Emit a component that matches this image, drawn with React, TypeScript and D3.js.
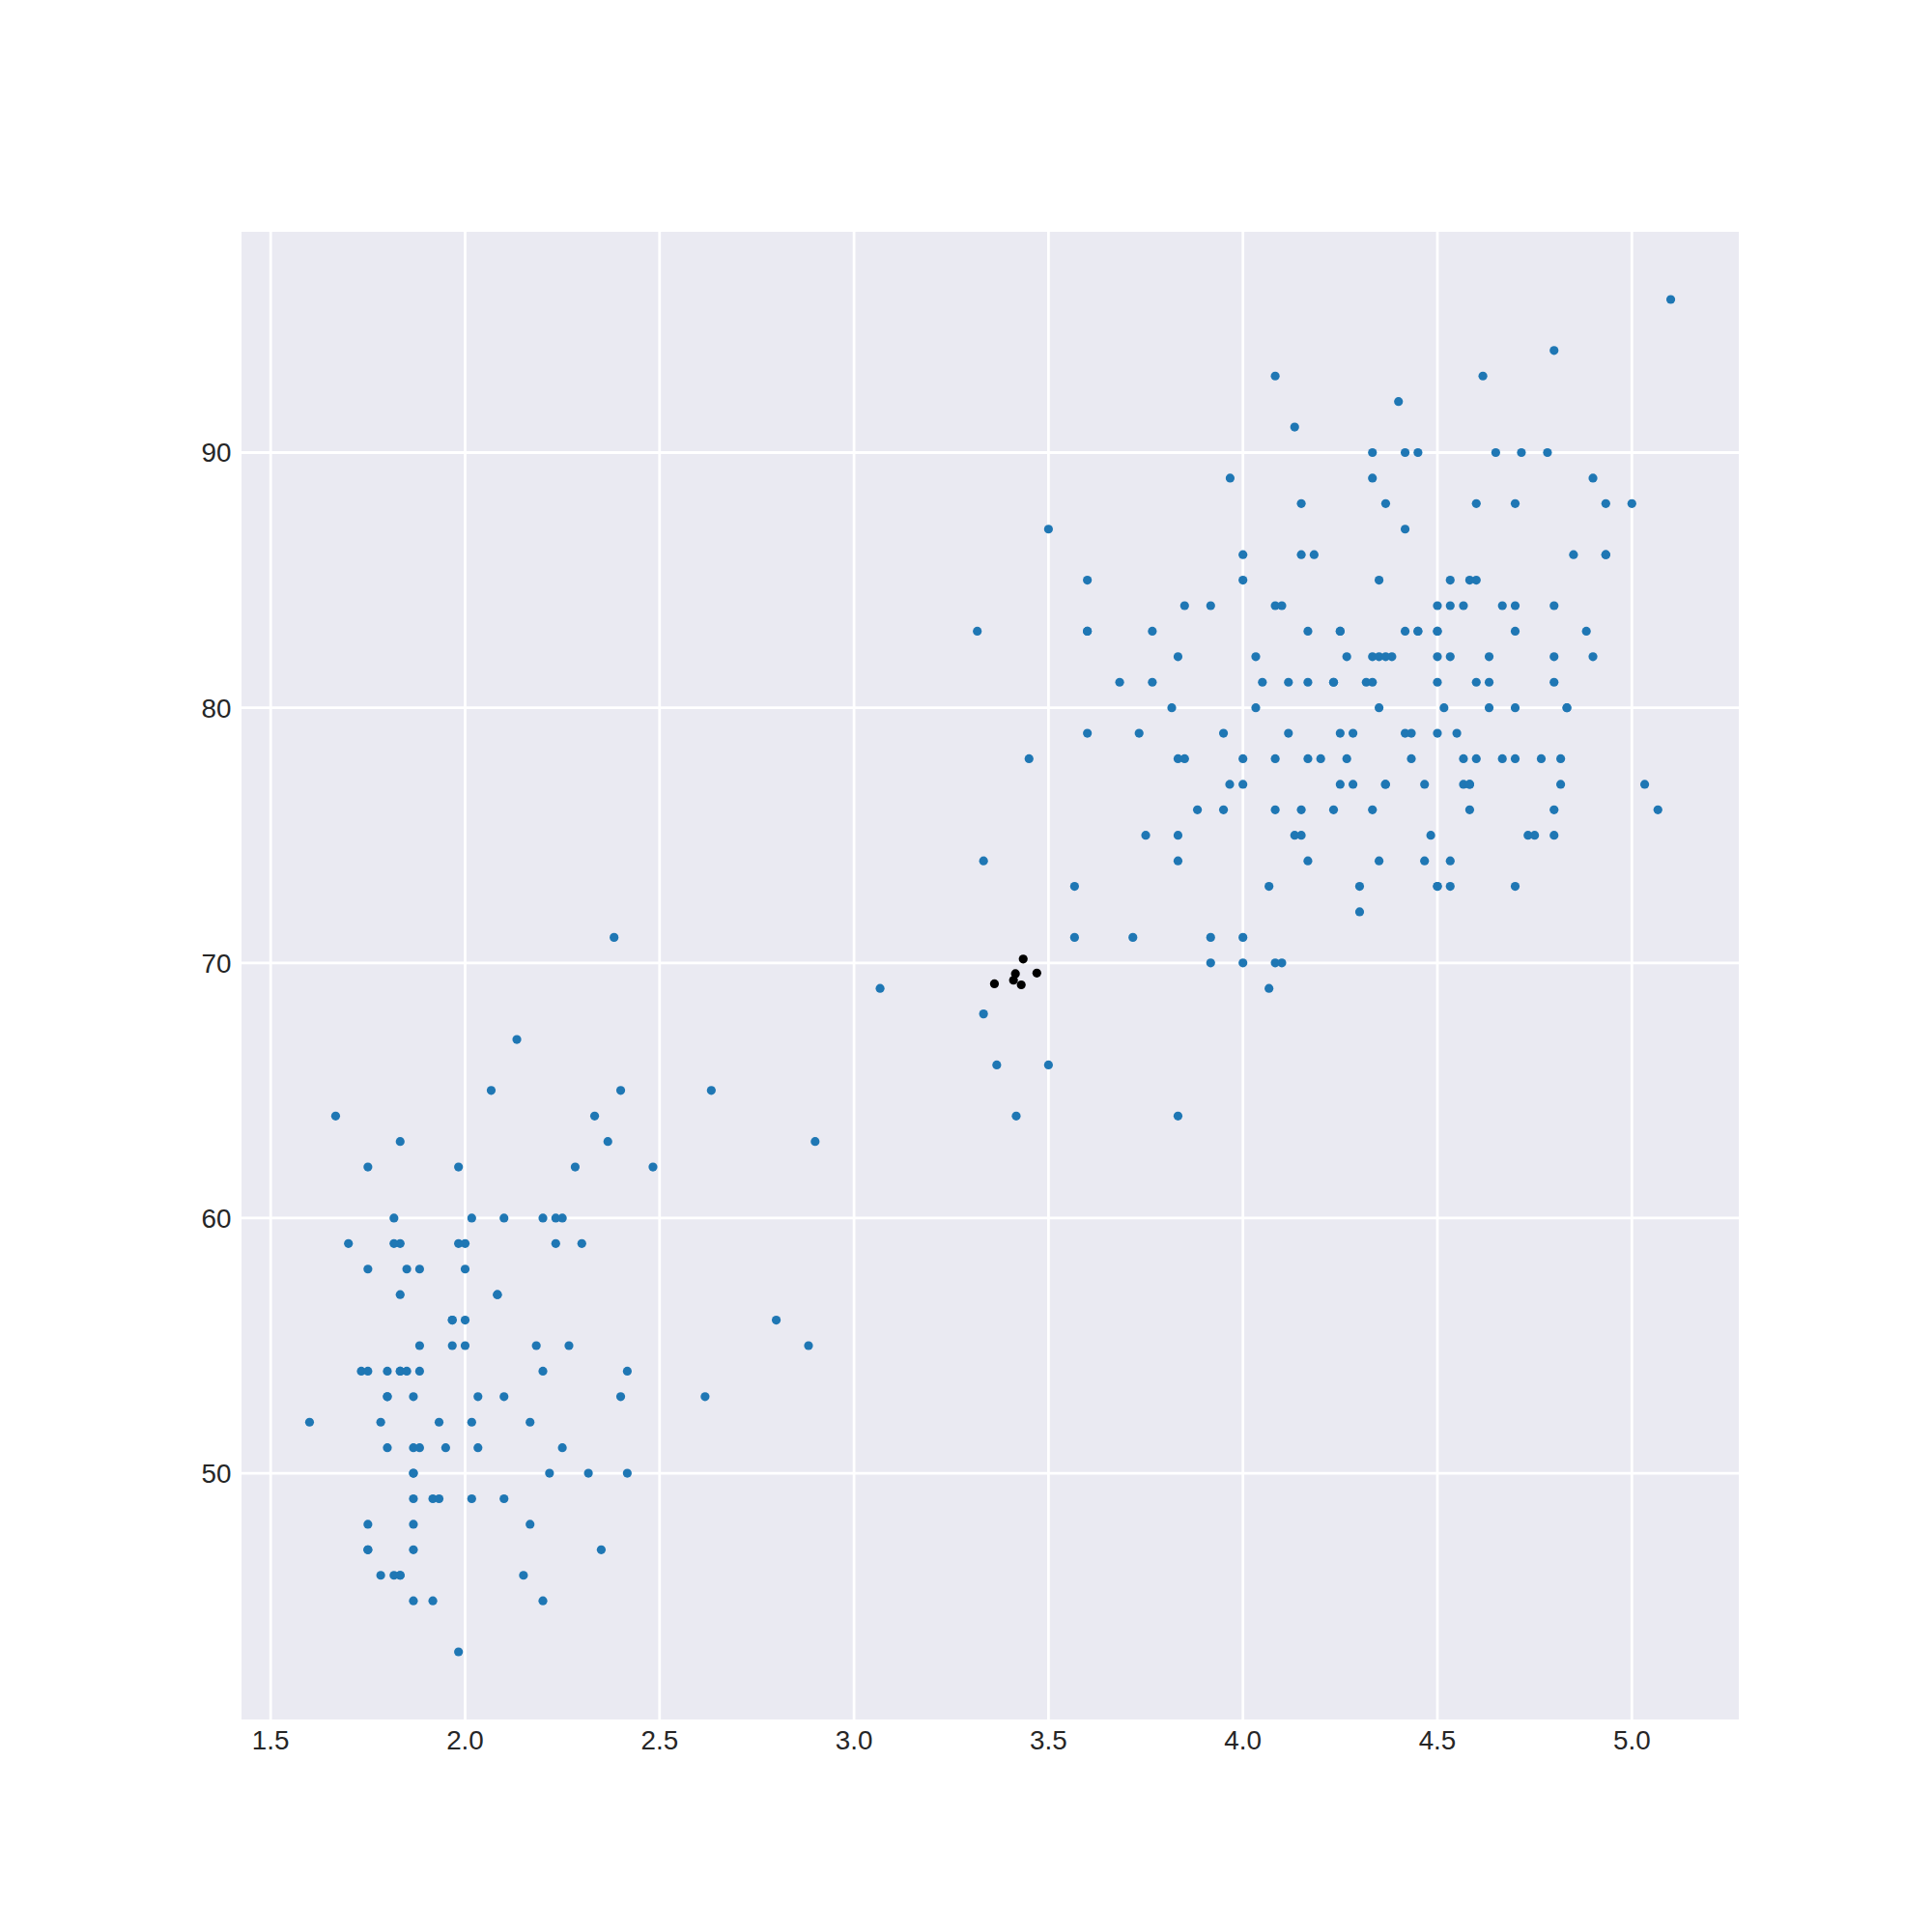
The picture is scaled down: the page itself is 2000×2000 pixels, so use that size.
import React from "react";
import * as d3 from "d3";

const eruptions: number[] = [
  3.6, 1.8, 3.333, 2.283, 4.533, 2.883, 4.7, 3.6, 1.95, 4.35, 1.833, 3.917, 4.2, 1.75, 4.7, 2.167, 1.75, 4.8, 1.6, 4.25,
  1.8, 1.75, 3.45, 3.067, 4.533, 3.6, 1.967, 4.083, 3.85, 4.433, 4.3, 4.467, 3.367, 4.033, 3.833, 2.017, 1.867, 4.833, 1.833, 4.783,
  4.35, 1.883, 4.567, 1.75, 4.533, 3.317, 3.833, 2.1, 4.633, 2.0, 4.8, 4.716, 1.833, 4.833, 1.733, 4.883, 3.717, 1.667, 4.567, 4.317,
  2.233, 4.5, 1.75, 4.8, 1.817, 4.4, 4.167, 4.7, 2.067, 4.7, 4.033, 1.967, 4.5, 4.0, 1.983, 5.067, 2.017, 4.567, 3.883, 3.6,
  4.133, 4.333, 4.1, 2.633, 4.067, 4.933, 3.95, 4.517, 2.167, 4.0, 2.2, 4.333, 1.867, 4.817, 1.833, 4.3, 4.667, 3.75, 1.867, 4.9,
  2.483, 4.367, 2.1, 4.5, 4.05, 1.867, 4.7, 1.783, 4.85, 3.683, 4.733, 2.3, 4.9, 4.417, 1.7, 4.633, 2.317, 4.6, 1.817, 4.417,
  2.617, 4.067, 4.25, 1.967, 4.6, 3.767, 1.917, 4.5, 2.267, 4.65, 1.867, 4.167, 2.8, 4.333, 1.833, 4.383, 1.883, 4.933, 2.033, 3.733,
  4.233, 2.233, 4.533, 4.817, 4.333, 1.983, 4.633, 2.017, 5.1, 1.8, 5.033, 4.0, 2.4, 4.6, 3.567, 4.0, 4.5, 4.083, 1.8, 3.967,
  2.2, 4.15, 2.0, 3.833, 3.5, 4.583, 2.367, 5.0, 1.933, 4.617, 1.917, 2.083, 4.583, 3.333, 4.167, 4.333, 4.5, 2.417, 4.0, 4.167,
  1.883, 4.583, 4.25, 3.767, 2.033, 4.433, 4.083, 1.833, 4.417, 2.183, 4.8, 1.833, 4.8, 4.1, 3.966, 4.233, 3.5, 4.366, 2.25, 4.667,
  2.1, 4.35, 4.133, 1.867, 4.6, 1.783, 4.367, 3.85, 1.933, 4.5, 2.383, 4.7, 1.867, 3.833, 3.417, 4.233, 2.4, 4.8, 2.0, 4.15,
  1.867, 4.267, 1.75, 4.483, 4.0, 4.117, 4.083, 4.267, 3.917, 4.55, 4.083, 2.417, 4.183, 2.217, 4.45, 1.883, 1.85, 4.283, 3.95, 2.333,
  4.15, 2.35, 4.933, 2.9, 4.583, 3.833, 2.083, 4.367, 2.133, 4.35, 2.2, 4.45, 3.567, 4.5, 4.15, 3.817, 3.917, 4.45, 2.0, 4.283,
  4.767, 4.533, 1.85, 4.25, 1.983, 2.25, 4.75, 4.117, 2.15, 4.417, 1.817, 4.467,
];

const waiting: number[] = [
  79, 54, 74, 62, 85, 55, 88, 85, 51, 85, 54, 84, 78, 47, 83, 52, 62, 84, 52, 79,
  51, 47, 78, 69, 74, 83, 55, 76, 78, 79, 73, 77, 66, 80, 74, 52, 48, 80, 59, 90,
  80, 58, 84, 58, 73, 83, 64, 53, 82, 59, 75, 90, 54, 80, 54, 83, 71, 64, 77, 81,
  59, 84, 48, 82, 60, 92, 78, 78, 65, 73, 82, 56, 79, 71, 62, 76, 60, 78, 76, 83,
  75, 82, 70, 65, 73, 88, 76, 80, 48, 86, 60, 90, 50, 78, 63, 72, 84, 75, 51, 82,
  62, 88, 49, 83, 81, 47, 84, 52, 86, 81, 75, 59, 89, 79, 59, 81, 50, 85, 59, 87,
  53, 69, 77, 56, 88, 81, 45, 82, 55, 90, 45, 83, 56, 89, 46, 82, 51, 86, 53, 79,
  81, 60, 82, 77, 76, 59, 80, 49, 96, 53, 77, 77, 65, 81, 71, 70, 81, 93, 53, 89,
  45, 86, 58, 78, 66, 76, 63, 88, 52, 93, 49, 57, 77, 68, 81, 81, 73, 50, 85, 74,
  55, 77, 83, 83, 51, 78, 84, 46, 83, 55, 81, 57, 76, 84, 77, 81, 87, 77, 51, 78,
  60, 82, 91, 53, 78, 46, 77, 84, 49, 83, 71, 80, 49, 75, 64, 76, 53, 94, 55, 76,
  50, 82, 54, 75, 78, 79, 78, 78, 70, 79, 70, 54, 86, 50, 90, 54, 54, 77, 79, 64,
  75, 47, 86, 63, 85, 82, 57, 82, 67, 74, 54, 83, 73, 73, 88, 80, 71, 83, 56, 79,
  78, 84, 58, 83, 43, 60, 75, 81, 46, 90, 46, 74,
];

// Centroid trail (black points)
const centroidX: number[] = [3.361, 3.41, 3.415, 3.43, 3.47, 3.435];
const centroidY: number[] = [69.18, 69.32, 69.58, 69.14, 69.6, 70.15];

const xTicks: number[] = [1.5, 2.0, 2.5, 3.0, 3.5, 4.0, 4.5, 5.0];
const yTicks: number[] = [50, 60, 70, 80, 90];

const W = 2000;
const H = 2000;
const left = 250, right = 1800, top = 240, bottom = 1780;

export default function App() {
  const allX = eruptions.concat(centroidX);
  const allY = waiting.concat(centroidY);
  const [x0, x1] = d3.extent(allX) as [number, number];
  const [y0, y1] = d3.extent(allY) as [number, number];
  const mx = (x1 - x0) * 0.05;
  const my = (y1 - y0) * 0.05;
  const xs = d3.scaleLinear().domain([x0 - mx, x1 + mx]).range([left, right]);
  const ys = d3.scaleLinear().domain([y0 - my, y1 + my]).range([bottom, top]);
  const font = "'Liberation Sans', Arial, sans-serif";
  const textColor = "#262626";
  const fs = 27.8;

  return (
    <svg width={W} height={H} style={{ position: "absolute", left: 0, top: 0, background: "#fff" }}>
      <rect x={left} y={top} width={right - left} height={bottom - top} fill="#EAEAF2" />
      {xTicks.map((t) => (
        <line key={"gx" + t} x1={xs(t)} x2={xs(t)} y1={top} y2={bottom} stroke="#fff" strokeWidth={2.78} />
      ))}
      {yTicks.map((t) => (
        <line key={"gy" + t} x1={left} x2={right} y1={ys(t)} y2={ys(t)} stroke="#fff" strokeWidth={2.78} />
      ))}
      {xTicks.map((t) => (
        <text key={"tx" + t} x={xs(t)} y={bottom + 10} dy="0.76em" textAnchor="middle" fontFamily={font} fontSize={fs} fill={textColor}>
          {d3.format(".1f")(t)}
        </text>
      ))}
      {yTicks.map((t) => (
        <text key={"ty" + t} x={left - 10.5} y={ys(t)} dy="0.36em" textAnchor="end" fontFamily={font} fontSize={fs} fill={textColor}>
          {String(t)}
        </text>
      ))}
      {eruptions.map((e, i) => (
        <circle key={"p" + i} cx={xs(e)} cy={ys(waiting[i])} r={4.6} fill="#1f77b4" />
      ))}
      {centroidX.map((c, i) => (
        <circle key={"c" + i} cx={xs(c)} cy={ys(centroidY[i])} r={4.6} fill="#000" />
      ))}
    </svg>
  );
}
